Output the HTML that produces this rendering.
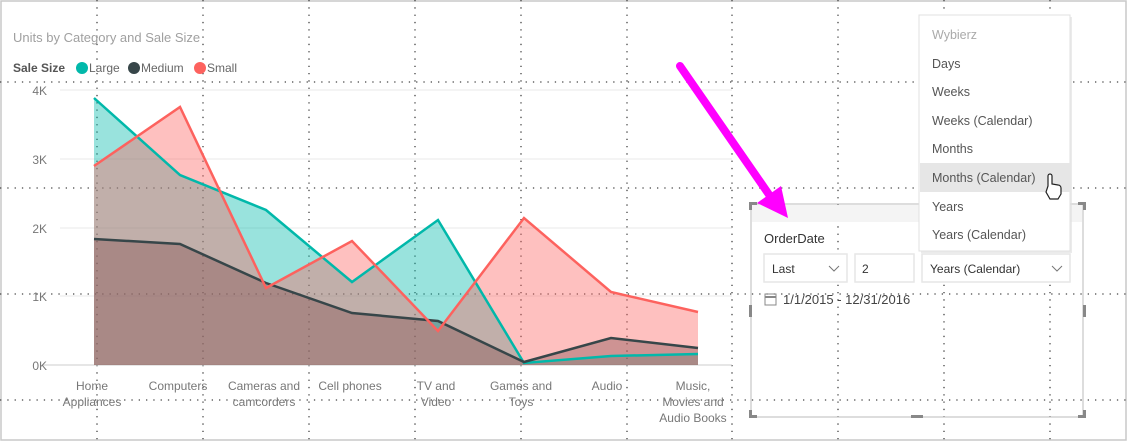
<!DOCTYPE html>
<html><head><meta charset="utf-8"><style>
body{margin:0;width:1128px;height:442px;overflow:hidden;background:#fff;font-family:"Liberation Sans",sans-serif;}
</style></head><body>
<svg width="1128" height="442" xmlns="http://www.w3.org/2000/svg" font-family="Liberation Sans, sans-serif">
<rect x="1" y="1" width="1125" height="439" fill="#fff" stroke="#c8c8c8" stroke-width="1.5"/>
<g stroke="#444" stroke-width="1.3" stroke-dasharray="1.3 6">
<line x1="97" y1="0" x2="97" y2="442"/><line x1="203" y1="0" x2="203" y2="442"/><line x1="309" y1="0" x2="309" y2="442"/><line x1="415" y1="0" x2="415" y2="442"/><line x1="521" y1="0" x2="521" y2="442"/><line x1="627" y1="0" x2="627" y2="442"/><line x1="732" y1="0" x2="732" y2="442"/><line x1="838" y1="0" x2="838" y2="442"/><line x1="944" y1="0" x2="944" y2="442"/><line x1="1050" y1="0" x2="1050" y2="442"/>
<line x1="0" y1="82" x2="1128" y2="82"/><line x1="0" y1="188" x2="1128" y2="188"/><line x1="0" y1="294" x2="1128" y2="294"/><line x1="0" y1="400" x2="1128" y2="400"/>
</g>
<text x="13" y="42" font-size="13" fill="#a0a0a0">Units by Category and Sale Size</text>
<text x="13" y="72" font-size="12" font-weight="bold" fill="#555">Sale Size</text>
<circle cx="82" cy="68" r="6" fill="#01B8AA"/><text x="89" y="72" font-size="12" fill="#666">Large</text>
<circle cx="134" cy="68" r="6" fill="#374649"/><text x="141" y="72" font-size="12" fill="#666">Medium</text>
<circle cx="200" cy="68" r="6" fill="#FD625E"/><text x="207" y="72" font-size="12" fill="#666">Small</text>
<g stroke="#e8e8e8" stroke-width="1"><line x1="60" y1="90" x2="732" y2="90"/><line x1="60" y1="159" x2="732" y2="159"/><line x1="60" y1="228" x2="732" y2="228"/><line x1="60" y1="296" x2="732" y2="296"/></g>
<line x1="42" y1="365" x2="732" y2="365" stroke="#ccc"/>
<g font-size="12" fill="#777" text-anchor="end"><text x="47" y="95">4K</text><text x="47" y="164">3K</text><text x="47" y="233">2K</text><text x="47" y="301">1K</text><text x="47" y="370">0K</text></g>
<polygon points="94,365 94,98 180,175 266,210 352,282 438,220 524,363 611,356 698,354 698,365" fill="#01B8AA" fill-opacity="0.4"/>
<polygon points="94,365 94,239 180,244 266,283 352,313 438,321 524,362 611,338 698,348 698,365" fill="#374649" fill-opacity="0.4"/>
<polygon points="94,365 94,166 180,107 266,288 352,241 438,331 524,218 611,292 698,312 698,365" fill="#FD625E" fill-opacity="0.4"/>
<polyline points="94,98 180,175 266,210 352,282 438,220 524,363 611,356 698,354" fill="none" stroke="#01B8AA" stroke-width="2.5"/>
<polyline points="94,239 180,244 266,283 352,313 438,321 524,362 611,338 698,348" fill="none" stroke="#374649" stroke-width="2.5"/>
<polyline points="94,166 180,107 266,288 352,241 438,331 524,218 611,292 698,312" fill="none" stroke="#FD625E" stroke-width="2.5"/>
<g font-size="12" fill="#777" text-anchor="middle">
<text x="92" y="390">Home</text><text x="92" y="406">Appliances</text>
<text x="178" y="390">Computers</text>
<text x="264" y="390">Cameras and</text><text x="264" y="406">camcorders</text>
<text x="350" y="390">Cell phones</text>
<text x="436" y="390">TV and</text><text x="436" y="406">Video</text>
<text x="521" y="390">Games and</text><text x="521" y="406">Toys</text>
<text x="607" y="390">Audio</text>
<text x="693" y="390">Music,</text><text x="693" y="406">Movies and</text><text x="693" y="422">Audio Books</text>
</g>
<!-- slicer -->
<rect x="751" y="204" width="332" height="213" fill="none" stroke="#bbb"/>
<rect x="752" y="205" width="330" height="17" fill="#f4f4f4"/>
<g fill="#888"><rect x="749" y="202" width="8" height="3"/><rect x="749" y="202" width="3" height="8"/><rect x="1078" y="202" width="8" height="3"/><rect x="1083" y="202" width="3" height="8"/><rect x="749" y="415" width="8" height="3"/><rect x="749" y="410" width="3" height="8"/><rect x="1078" y="415" width="8" height="3"/><rect x="1083" y="410" width="3" height="8"/><rect x="749" y="305" width="3" height="12"/><rect x="1083" y="305" width="3" height="12"/><rect x="911" y="415" width="12" height="3"/></g>
<text x="764" y="243" font-size="13" fill="#333">OrderDate</text>
<g fill="#fff" stroke="#e6e6e6" stroke-width="1.5"><rect x="764" y="254" width="83" height="28"/><rect x="855" y="254" width="59" height="28"/><rect x="922" y="254" width="148" height="28"/></g>
<g font-size="12" fill="#333"><text x="772" y="273">Last</text><text x="862" y="273">2</text><text x="930" y="273">Years (Calendar)</text></g>
<g fill="none" stroke="#777"><polyline points="829,266 834,271 839,266"/><polyline points="1052,266 1057,271 1062,266"/></g>
<rect x="765" y="294" width="11" height="11" fill="none" stroke="#888"/><line x1="765" y1="297" x2="776" y2="297" stroke="#888" stroke-width="2"/>
<text x="783" y="304" font-size="13" fill="#444">1/1/2015 - 12/31/2016</text>
<!-- dropdown -->
<rect x="921" y="17" width="151" height="236" fill="#ddd" opacity="0.6"/>
<rect x="919" y="15" width="151" height="236" fill="#fff" stroke="#e0e0e0"/>
<rect x="920" y="163" width="150" height="29" fill="#e6e6e6"/>
<g font-size="12.5" fill="#555"><text x="932" y="39" fill="#aaa">Wybierz</text><text x="932" y="68">Days</text><text x="932" y="96">Weeks</text><text x="932" y="125">Weeks (Calendar)</text><text x="932" y="153">Months</text><text x="932" y="182">Months (Calendar)</text><text x="932" y="211">Years</text><text x="932" y="239">Years (Calendar)</text></g>
<path d="M1048,186 l0,-10 a2,2 0 0 1 4,0 l0,8 l6,1 a3,3 0 0 1 3,3 l0,6 l-3,5 l-8,0 l-4,-7z" fill="#fff" stroke="#222" stroke-width="1.2"/>
<!-- arrow -->
<line x1="680" y1="66" x2="770" y2="196" stroke="#ff00ff" stroke-width="8" stroke-linecap="round"/>
<polygon points="788,218 757,203 781,186" fill="#ff00ff"/>
</svg>
</body></html>
